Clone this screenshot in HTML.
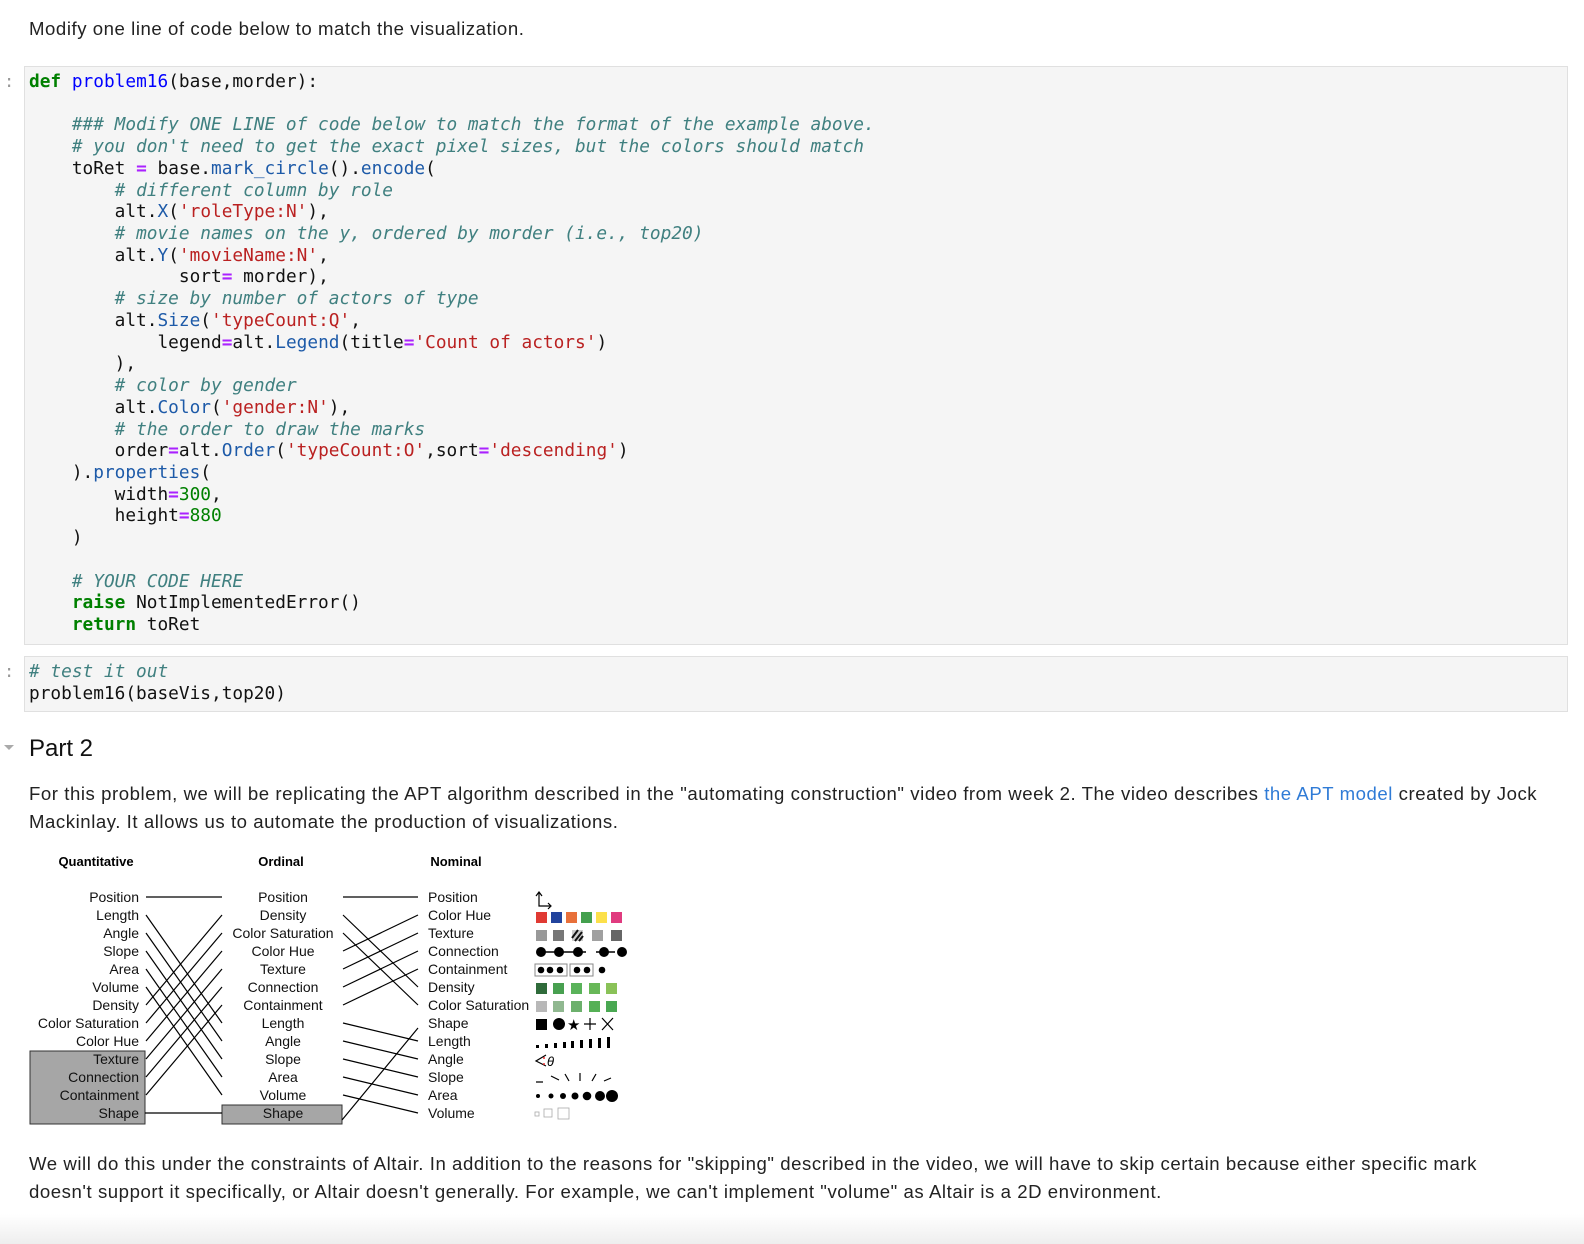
<!DOCTYPE html>
<html><head><meta charset="utf-8"><style>
body{margin:0;width:1584px;height:1244px;position:relative;background:#fff;overflow:hidden;font-family:"Liberation Sans",sans-serif;color:#222;}
.p{position:absolute;left:29px;font-size:18.6px;letter-spacing:0.55px;white-space:nowrap;}
.cell{position:absolute;left:24px;right:16px;background:#f5f5f5;border:1px solid #e0e0e0;}
.pr{position:absolute;left:4px;color:#999;font-family:"DejaVu Sans Mono",monospace;font-size:17px;}
pre{margin:0;position:absolute;left:4px;font-family:"DejaVu Sans Mono",monospace;font-size:17.8px;line-height:21.72px;color:#111;}
.k{color:#008000;font-weight:bold}.f{color:#0000ff}.c{color:#408080;font-style:italic}.s{color:#ba2121}.a{color:#1d5aa8}.o{color:#aa22ff;font-weight:bold}.n{color:#008000}
</style></head><body>
<div class="p" style="top:18px">Modify one line of code below to match the visualization.</div>
<div class="pr" style="top:72px">:</div>
<div class="cell" style="top:66px;height:577px">
<pre style="top:4px"><span class="k">def</span> <span class="f">problem16</span>(base,morder):

    <span class="c">### Modify ONE LINE of code below to match the format of the example above.</span>
    <span class="c"># you don't need to get the exact pixel sizes, but the colors should match</span>
    toRet <span class="o">=</span> base.<span class="a">mark_circle</span>().<span class="a">encode</span>(
        <span class="c"># different column by role</span>
        alt.<span class="a">X</span>(<span class="s">'roleType:N'</span>),
        <span class="c"># movie names on the y, ordered by morder (i.e., top20)</span>
        alt.<span class="a">Y</span>(<span class="s">'movieName:N'</span>,
              sort<span class="o">=</span> morder),
        <span class="c"># size by number of actors of type</span>
        alt.<span class="a">Size</span>(<span class="s">'typeCount:Q'</span>,
            legend<span class="o">=</span>alt.<span class="a">Legend</span>(title<span class="o">=</span><span class="s">'Count of actors'</span>)
        ),
        <span class="c"># color by gender</span>
        alt.<span class="a">Color</span>(<span class="s">'gender:N'</span>),
        <span class="c"># the order to draw the marks</span>
        order<span class="o">=</span>alt.<span class="a">Order</span>(<span class="s">'typeCount:O'</span>,sort<span class="o">=</span><span class="s">'descending'</span>)
    ).<span class="a">properties</span>(
        width<span class="o">=</span><span class="n">300</span>,
        height<span class="o">=</span><span class="n">880</span>
    )

    <span class="c"># YOUR CODE HERE</span>
    <span class="k">raise</span> NotImplementedError()
    <span class="k">return</span> toRet</pre></div>
<div class="pr" style="top:662px">:</div>
<div class="cell" style="top:656px;height:54px">
<pre style="top:4px"><span class="c"># test it out</span>
problem16(baseVis,top20)</pre></div>
<div style="position:absolute;left:4px;top:745px;width:0;height:0;border-left:5px solid transparent;border-right:5px solid transparent;border-top:5px solid #aaa"></div>
<div style="position:absolute;left:29px;top:735px;font-size:24px;color:#111">Part 2</div>
<div class="p" style="top:783px">For this problem, we will be replicating the APT algorithm described in the "automating construction" video from week 2. The video describes <span style="color:#2f7bd6">the APT model</span> created by Jock</div>
<div class="p" style="top:811px">Mackinlay. It allows us to automate the production of visualizations.</div>

<svg style="position:absolute;left:0;top:0" width="1584" height="1244" font-family="Liberation Sans,sans-serif">
<g font-weight="bold" font-size="13" text-anchor="middle" fill="#000">
<text x="96" y="866">Quantitative</text><text x="281" y="866">Ordinal</text><text x="456" y="866">Nominal</text></g>
<rect x="30" y="1051" width="115" height="73" fill="#a6a6a6" stroke="#333"/>
<rect x="222" y="1105" width="120" height="19" fill="#a6a6a6" stroke="#333"/>
<g font-size="14" fill="#111">
<g text-anchor="end">
<text x="139" y="902">Position</text><text x="139" y="920">Length</text><text x="139" y="938">Angle</text><text x="139" y="956">Slope</text><text x="139" y="974">Area</text><text x="139" y="992">Volume</text><text x="139" y="1010">Density</text><text x="139" y="1028">Color Saturation</text><text x="139" y="1046">Color Hue</text><text x="139" y="1064">Texture</text><text x="139" y="1082">Connection</text><text x="139" y="1100">Containment</text><text x="139" y="1118">Shape</text></g>
<g text-anchor="middle">
<text x="283" y="902">Position</text><text x="283" y="920">Density</text><text x="283" y="938">Color Saturation</text><text x="283" y="956">Color Hue</text><text x="283" y="974">Texture</text><text x="283" y="992">Connection</text><text x="283" y="1010">Containment</text><text x="283" y="1028">Length</text><text x="283" y="1046">Angle</text><text x="283" y="1064">Slope</text><text x="283" y="1082">Area</text><text x="283" y="1100">Volume</text><text x="283" y="1118">Shape</text></g>
<g>
<text x="428" y="902">Position</text><text x="428" y="920">Color Hue</text><text x="428" y="938">Texture</text><text x="428" y="956">Connection</text><text x="428" y="974">Containment</text><text x="428" y="992">Density</text><text x="428" y="1010">Color Saturation</text><text x="428" y="1028">Shape</text><text x="428" y="1046">Length</text><text x="428" y="1064">Angle</text><text x="428" y="1082">Slope</text><text x="428" y="1100">Area</text><text x="428" y="1118">Volume</text></g>
</g>
<g stroke="#000" stroke-width="1.2" fill="none">
<line x1="146" y1="897" x2="222" y2="897"/>
<line x1="146" y1="915" x2="222" y2="1023"/><line x1="146" y1="933" x2="222" y2="1041"/><line x1="146" y1="951" x2="222" y2="1059"/><line x1="146" y1="969" x2="222" y2="1077"/><line x1="146" y1="987" x2="222" y2="1095"/>
<line x1="146" y1="1005" x2="222" y2="915"/><line x1="146" y1="1023" x2="222" y2="933"/><line x1="146" y1="1041" x2="222" y2="951"/><line x1="146" y1="1059" x2="222" y2="969"/><line x1="146" y1="1077" x2="222" y2="987"/><line x1="146" y1="1095" x2="222" y2="1005"/>
<line x1="145" y1="1113" x2="222" y2="1113"/>
<line x1="343" y1="897" x2="418" y2="897"/>
<line x1="343" y1="915" x2="418" y2="987"/><line x1="343" y1="933" x2="418" y2="1005"/>
<line x1="343" y1="951" x2="418" y2="915"/><line x1="343" y1="969" x2="418" y2="933"/><line x1="343" y1="987" x2="418" y2="951"/><line x1="343" y1="1005" x2="418" y2="969"/>
<line x1="343" y1="1023" x2="418" y2="1041"/><line x1="343" y1="1041" x2="418" y2="1059"/><line x1="343" y1="1059" x2="418" y2="1077"/><line x1="343" y1="1077" x2="418" y2="1095"/><line x1="343" y1="1095" x2="418" y2="1113"/>
<line x1="342" y1="1120" x2="418" y2="1028"/>
</g>
<g stroke="#000" stroke-width="1.2" fill="none"><path d="M539 893 V906 H550"/><path d="M536 896 L539 892 L542 896 M548 903 L551 906 L548 909"/></g>
<g>
<rect x="536" y="912" width="11" height="11" fill="#e03a33"/><rect x="551" y="912" width="11" height="11" fill="#22439d"/><rect x="566" y="912" width="11" height="11" fill="#e8703a"/><rect x="581" y="912" width="11" height="11" fill="#44a04e"/><rect x="596" y="912" width="11" height="11" fill="#fce04a"/><rect x="611" y="912" width="11" height="11" fill="#e03b7f"/>
<rect x="536" y="930" width="11" height="11" fill="#999"/><rect x="553" y="930" width="11" height="11" fill="#777"/><rect x="572" y="930" width="11" height="11" fill="#ccc"/><path d="M572 938 l6-8 M575 941 l7-9 M579 941 l4-5" stroke="#111" stroke-width="2"/><rect x="592" y="930" width="11" height="11" fill="#a0a0a0"/><rect x="611" y="930" width="11" height="11" fill="#666"/>
</g>
<g fill="#000"><line x1="541" y1="952" x2="615" y2="952" stroke="#000" stroke-width="1.5"/><rect x="586" y="948" width="10" height="8" fill="#fff"/>
<circle cx="541" cy="952" r="5"/><circle cx="559" cy="952" r="5"/><circle cx="578" cy="952" r="5"/><circle cx="604" cy="952" r="5"/><circle cx="622" cy="952" r="5"/>
<rect x="535" y="964" width="32" height="12" fill="none" stroke="#888"/><rect x="570" y="964" width="23" height="12" fill="none" stroke="#888"/>
<circle cx="541" cy="970" r="3.3"/><circle cx="550" cy="970" r="3.3"/><circle cx="560" cy="970" r="3.3"/><circle cx="577" cy="970" r="3.3"/><circle cx="587" cy="970" r="3.3"/><circle cx="602" cy="970" r="3.3"/></g>
<rect x="536" y="983" width="11" height="11" fill="#2f6b3a"/><rect x="553" y="983" width="11" height="11" fill="#48a050"/><rect x="571" y="983" width="11" height="11" fill="#5ab35a"/><rect x="589" y="983" width="11" height="11" fill="#68b858"/><rect x="606" y="983" width="11" height="11" fill="#8ac258"/>
<rect x="536" y="1001" width="11" height="11" fill="#b8b8b8"/><rect x="553" y="1001" width="11" height="11" fill="#90b890"/><rect x="571" y="1001" width="11" height="11" fill="#6cb06c"/><rect x="589" y="1001" width="11" height="11" fill="#55b055"/><rect x="606" y="1001" width="11" height="11" fill="#4aa852"/>
<rect x="536" y="1019" width="11" height="11" fill="#000"/><circle cx="559" cy="1024" r="6" fill="#000"/>
<text x="567" y="1030" font-size="15" fill="#000">★</text>
<path d="M584 1024 h12 M590 1018 v12 M602 1018 l11 12 M613 1018 l-11 12" stroke="#000" stroke-width="1.2"/>
<g fill="#000"><rect x="536" y="1045" width="3" height="3"/><rect x="545" y="1044" width="3" height="4"/><rect x="554" y="1043" width="3" height="5"/><rect x="571" y="1041" width="3" height="7"/><rect x="580" y="1040" width="3" height="8"/><rect x="589" y="1039" width="3" height="9"/><rect x="598" y="1038" width="3" height="10"/><rect x="607" y="1037" width="3" height="11"/><rect x="563" y="1042" width="3" height="6"/></g>
<path d="M546 1055 l-10 6 l10 5" stroke="#000" fill="none" stroke-width="1.2"/><circle cx="544" cy="1058" r="1" fill="#e33"/><circle cx="544" cy="1064" r="1" fill="#e33"/>
<text x="547" y="1066" font-size="13" font-style="italic" fill="#000">θ</text>
<path d="M536 1082 h7 M551 1076 l8 4 M565 1074 l4 7 M580 1073 v8 M596 1074 l-4 7 M611 1078 l-7 3" stroke="#000" stroke-width="1.2"/>
<g fill="#000"><circle cx="538" cy="1096" r="2"/><circle cx="551" cy="1096" r="2.5"/><circle cx="563" cy="1096" r="3"/><circle cx="575" cy="1096" r="3.5"/><circle cx="587" cy="1096" r="4.3"/><circle cx="600" cy="1096" r="5"/><circle cx="612" cy="1096" r="6"/></g>
<g stroke="#aaa" fill="none" stroke-width="0.8"><rect x="535" y="1112" width="4" height="4"/><rect x="544" y="1109" width="8" height="8"/><rect x="558" y="1108" width="11" height="11"/></g>
</svg>
<div class="p" style="top:1153px">We will do this under the constraints of Altair. In addition to the reasons for "skipping" described in the video, we will have to skip certain because either specific mark</div>
<div class="p" style="top:1181px">doesn't support it specifically, or Altair doesn't generally. For example, we can't implement "volume" as Altair is a 2D environment.</div>
<div style="position:absolute;left:0;right:0;top:1214px;height:30px;background:linear-gradient(#fff,#eee)"></div>
</body></html>
